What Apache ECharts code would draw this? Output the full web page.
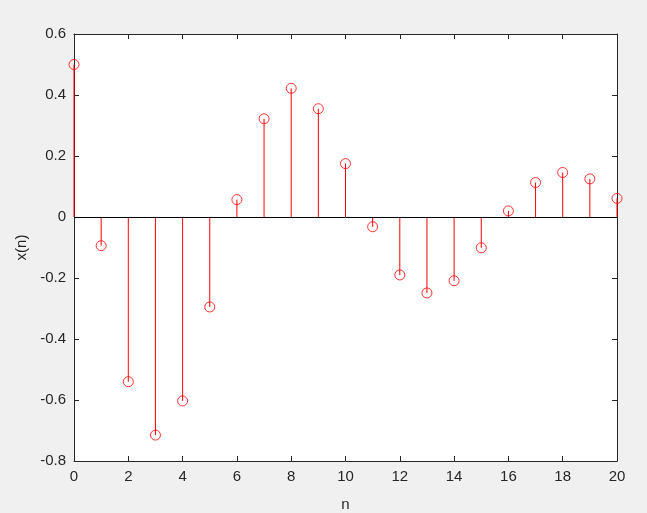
<!DOCTYPE html>
<html>
<head>
<meta charset="utf-8">
<script src="https://cdn.jsdelivr.net/npm/echarts@6/dist/echarts.min.js"></script>
<style>
  html, body { margin: 0; padding: 0; background: #f0f0f0; }
  #chart { width: 647px; height: 513px; }
</style>
</head>
<body>
<div id="chart"></div>
<script>
// stem plot x(n), n = 0..20
const nValues = [0, 1, 2, 3, 4, 5, 6, 7, 8, 9, 10, 11, 12, 13, 14, 15, 16, 17, 18, 19, 20];
const xValues = [0.5, -0.094, -0.54, -0.715, -0.603, -0.295, 0.057, 0.322, 0.422, 0.355, 0.175,
  -0.032, -0.19, -0.249, -0.209, -0.101, 0.02, 0.113, 0.146, 0.125, 0.061];

const points = nValues.map((n, i) => [n, xValues[i]]);

const txt = "#262626";
const font = "Liberation Sans, Arial, sans-serif";

let chart = echarts.init(document.getElementById("chart"));

function yFmt(v) {
  let r = Math.round(v * 10) / 10;
  return r === 0 ? "0" : r.toFixed(1);
}

function axisCommon() {
  return {
    axisLine: { onZero: false, lineStyle: { color: txt, width: 1 } },
    axisTick: { inside: true, length: 5, lineStyle: { color: txt } },
    splitLine: { show: false }
  };
}

let options = {
  backgroundColor: "#f0f0f0",
  animation: false,
  grid: {
    left: 74, top: 34, right: 30, bottom: 52,
    outerBoundsMode: "none", containLabel: false,
    show: true, backgroundColor: "#ffffff", borderWidth: 0
  },
  xAxis: [
    Object.assign({
      type: "value", min: 0, max: 20, interval: 2, position: "bottom",
      name: "n", nameLocation: "middle", nameGap: 36,
      nameTextStyle: { color: txt, fontSize: 15, fontFamily: font },
      axisLabel: { color: txt, fontSize: 15, fontFamily: font, margin: 8 }
    }, axisCommon()),
    Object.assign({
      type: "value", min: 0, max: 20, interval: 2, position: "top",
      axisLabel: { show: false }
    }, axisCommon())
  ],
  yAxis: [
    Object.assign({
      type: "value", min: -0.8, max: 0.6, interval: 0.2, position: "left",
      name: "x(n)", nameLocation: "middle", nameGap: 42,
      nameTextStyle: { color: txt, fontSize: 15, fontFamily: font },
      axisLabel: { color: txt, fontSize: 15, fontFamily: font, margin: 8, formatter: yFmt }
    }, axisCommon()),
    Object.assign({
      type: "value", min: -0.8, max: 0.6, interval: 0.2, position: "right",
      axisLabel: { show: false }
    }, axisCommon())
  ],
  series: [
    {
      // stems
      type: "custom",
      data: points,
      renderItem: function (params, api) {
        let top = api.coord([api.value(0), api.value(1)]);
        let base = api.coord([api.value(0), 0]);
        return {
          type: "line",
          shape: { x1: top[0], y1: top[1], x2: base[0], y2: base[1] },
          style: { stroke: "#ff0000", lineWidth: 1 }
        };
      },
      markLine: {
        silent: true,
        symbol: "none",
        label: { show: false },
        lineStyle: { color: "#000000", width: 1, type: "solid" },
        data: [{ yAxis: 0 }]
      },
      z: 2
    },
    {
      // markers
      type: "scatter",
      data: points,
      symbol: "circle",
      symbolSize: 10,
      itemStyle: { color: "rgba(0,0,0,0)", borderColor: "#ff0000", borderWidth: 1 },
      z: 3
    }
  ]
};

chart.setOption(options);
window.addEventListener("resize", function () {
  chart.resize();
});
</script>
</body>
</html>
